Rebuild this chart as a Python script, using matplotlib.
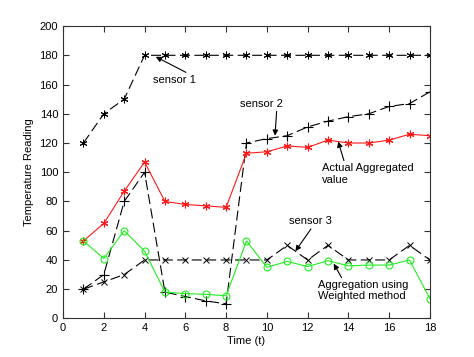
import numpy as np
import matplotlib
matplotlib.use("Agg")
import matplotlib.pyplot as plt

plt.rcParams['font.family'] = ['Liberation Sans', 'DejaVu Sans']

# data
t = list(range(1, 19))
sensor1 = [120, 140, 150, 180, 180, 180, 180, 180, 180, 180, 180, 180, 180, 180, 180, 180, 180, 180]
sensor2 = [20, 30, 80, 100, 18, 15, 12, 10, 120, 123, 125, 131, 135, 138, 140, 145, 147, 155]
sensor3 = [20, 25, 30, 40, 40, 40, 40, 40, 40, 40, 50, 40, 50, 40, 40, 40, 50, 40]
actual = [53, 65, 87, 107, 80, 78, 77, 76, 113, 114, 118, 117, 122, 120, 120, 122, 126, 125]
weighted = [53, 41, 60, 46, 18, 17, 16.5, 15.5, 53, 35, 39, 35.5, 39.5, 36, 36.5, 36.5, 40, 13.5]

fig = plt.figure(figsize=(4.74, 3.57), dpi=100)
ax = fig.add_axes([0.133, 0.108, 0.774, 0.819])

dash = (9, 4)
star = (6, 2, 0)  # asterisk marker like matlab
ax.plot(t, sensor1, color='k', lw=0.8, dashes=dash, marker=star, ms=5.5, mew=0.7)
ax.plot(t, sensor2, color='k', lw=0.8, dashes=dash, marker='+', ms=6.5, mew=0.8)
ax.plot(t, sensor3, color='k', lw=0.8, dashes=dash, marker='x', ms=5, mew=0.7)
ax.plot(t, actual, color='#ff1a1a', lw=0.8, marker=star, ms=5.5, mew=0.8)
ax.plot(t, weighted, color='#22ee22', lw=0.8, marker='o', ms=5, mfc='none', mew=0.8)

ax.set_xlim(0, 18)
ax.set_ylim(0, 200)
ax.set_xticks(np.arange(0, 19, 2))
ax.set_yticks(np.arange(0, 201, 20))
ax.tick_params(direction='in', length=4, width=0.8, labelsize=8,
               top=True, right=True, colors='#333333', labelcolor='k')
for s in ax.spines.values():
    s.set_linewidth(0.8)
    s.set_color('#333333')

ax.set_xlabel('Time (t)', fontsize=8, labelpad=2)
ax.set_ylabel('Temperature Reading', fontsize=8, labelpad=4)

arr = dict(arrowstyle='-|>', color='k', lw=0.8, mutation_scale=8, shrinkA=0, shrinkB=0)
ax.annotate('sensor 1', xy=(4.55, 179), xytext=(4.4, 163), fontsize=8,
            ha='left', va='center', arrowprops=dict(arr, relpos=(0.9, 1.0)))
ax.annotate('sensor 2', xy=(10.4, 125), xytext=(8.7, 147), fontsize=8,
            ha='left', va='center', arrowprops=dict(arr, relpos=(0.85, 0.0)))
ax.annotate('Actual Aggregated\nvalue', xy=(13.5, 121), xytext=(12.7, 106), fontsize=8,
            ha='left', va='top', linespacing=1.25, arrowprops=dict(arr, relpos=(0.25, 1.0)))
ax.annotate('sensor 3', xy=(11.4, 46), xytext=(11.1, 66.5), fontsize=8,
            ha='left', va='center', arrowprops=dict(arr, relpos=(0.55, 0.0)))
ax.annotate('Aggregation using\nWeighted method', xy=(13.28, 37.5), xytext=(12.5, 26), fontsize=8,
            ha='left', va='top', linespacing=1.1, arrowprops=dict(arr, relpos=(0.28, 1.0)))

fig.savefig('out.png', dpi=100)
